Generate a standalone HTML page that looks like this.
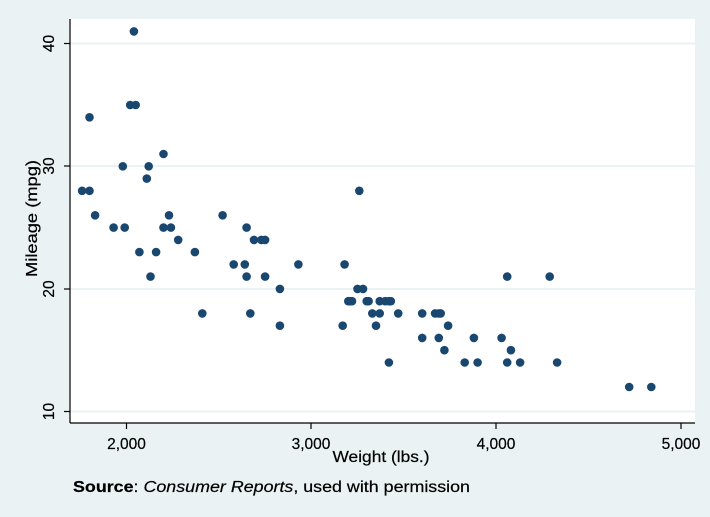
<!DOCTYPE html>
<html><head><style>
body{margin:0;background:#eaf2f3;}
svg{display:block;font-family:"Liberation Sans",Arial,sans-serif;}
</style></head><body>
<svg id="s" width="710" height="517" xmlns="http://www.w3.org/2000/svg">
<rect x="0" y="0" width="710" height="517" fill="#eaf2f3"/>
<rect x="70" y="19" width="625" height="404" fill="#ffffff"/>
<g stroke="#eaf2f3" stroke-width="2">
<line x1="70" x2="695" y1="411.5" y2="411.5"/>
<line x1="70" x2="695" y1="289" y2="289"/>
<line x1="70" x2="695" y1="166" y2="166"/>
<line x1="70" x2="695" y1="43.5" y2="43.5"/>
</g>
<g stroke="#000" stroke-width="1.2">
<line x1="70" x2="70" y1="19" y2="423"/>
<line x1="70" x2="695" y1="423" y2="423"/>
<line x1="64" x2="70" y1="411.5" y2="411.5"/><line x1="64" x2="70" y1="289" y2="289"/>
<line x1="64" x2="70" y1="166" y2="166"/><line x1="64" x2="70" y1="43.5" y2="43.5"/>
<line x1="126.5" x2="126.5" y1="423" y2="429"/><line x1="311" x2="311" y1="423" y2="429"/>
<line x1="496" x2="496" y1="423" y2="429"/><line x1="681" x2="681" y1="423" y2="429"/>
</g>
<g font-size="15.5" text-anchor="middle" fill="#000" stroke="#000" stroke-width="0.2">
<text transform="translate(54,411.5) rotate(-90)">10</text>
<text transform="translate(54,289) rotate(-90)">20</text>
<text transform="translate(54,166) rotate(-90)">30</text>
<text transform="translate(54,43.5) rotate(-90)">40</text>
<text x="126.5" y="449">2,000</text><text x="311" y="449">3,000</text>
<text x="496" y="449">4,000</text><text x="681" y="449">5,000</text>
<text x="381" y="462" textLength="97" lengthAdjust="spacingAndGlyphs">Weight (lbs.)</text>
<text transform="translate(37,218.5) rotate(-90)" textLength="117" lengthAdjust="spacingAndGlyphs">Mileage (mpg)</text>
<text x="73" y="492" text-anchor="start" textLength="397" lengthAdjust="spacingAndGlyphs"><tspan font-weight="bold">Source</tspan>: <tspan font-style="italic">Consumer Reports</tspan>, used with permission</text>
</g>
<g id="pts" fill="#1a476f"></g>
</svg>
<script>
var d=[[2930,22],[3350,17],[2640,22],[3250,20],[4080,15],[3670,18],[2230,26],[3280,20],[3880,16],[3400,19],[4330,14],[3900,14],[4290,21],[2110,29],[3690,16],[3180,22],[3220,19],[2750,24],[3430,19],[2120,30],[3600,18],[3600,16],[3740,17],[1800,28],[2650,21],[4840,12],[4720,12],[3830,14],[2580,22],[4060,14],[3720,15],[3370,18],[4130,14],[2830,20],[4060,21],[3310,19],[3300,19],[3690,18],[3370,19],[2730,24],[4030,16],[3260,28],[1800,34],[2200,25],[2520,26],[3330,18],[3700,18],[3470,18],[3210,19],[3200,19],[3420,19],[2690,24],[2830,17],[2070,23],[2650,25],[2370,23],[2020,35],[2280,24],[2750,21],[2130,21],[2240,25],[1760,28],[1980,30],[3420,14],[1830,26],[2050,35],[2410,18],[2200,31],[2670,18],[2160,23],[2040,41],[1930,25],[1990,25],[3170,17]];
var g=document.getElementById('pts'),s='';
d.forEach(function(p){var x=126.5+(p[0]-2000)*0.1848,y=411.5-(p[1]-10)*12.26;s+='<circle cx="'+x.toFixed(1)+'" cy="'+y.toFixed(1)+'" r="4.3"/>';});
g.innerHTML=s;
</script>
</body></html>
